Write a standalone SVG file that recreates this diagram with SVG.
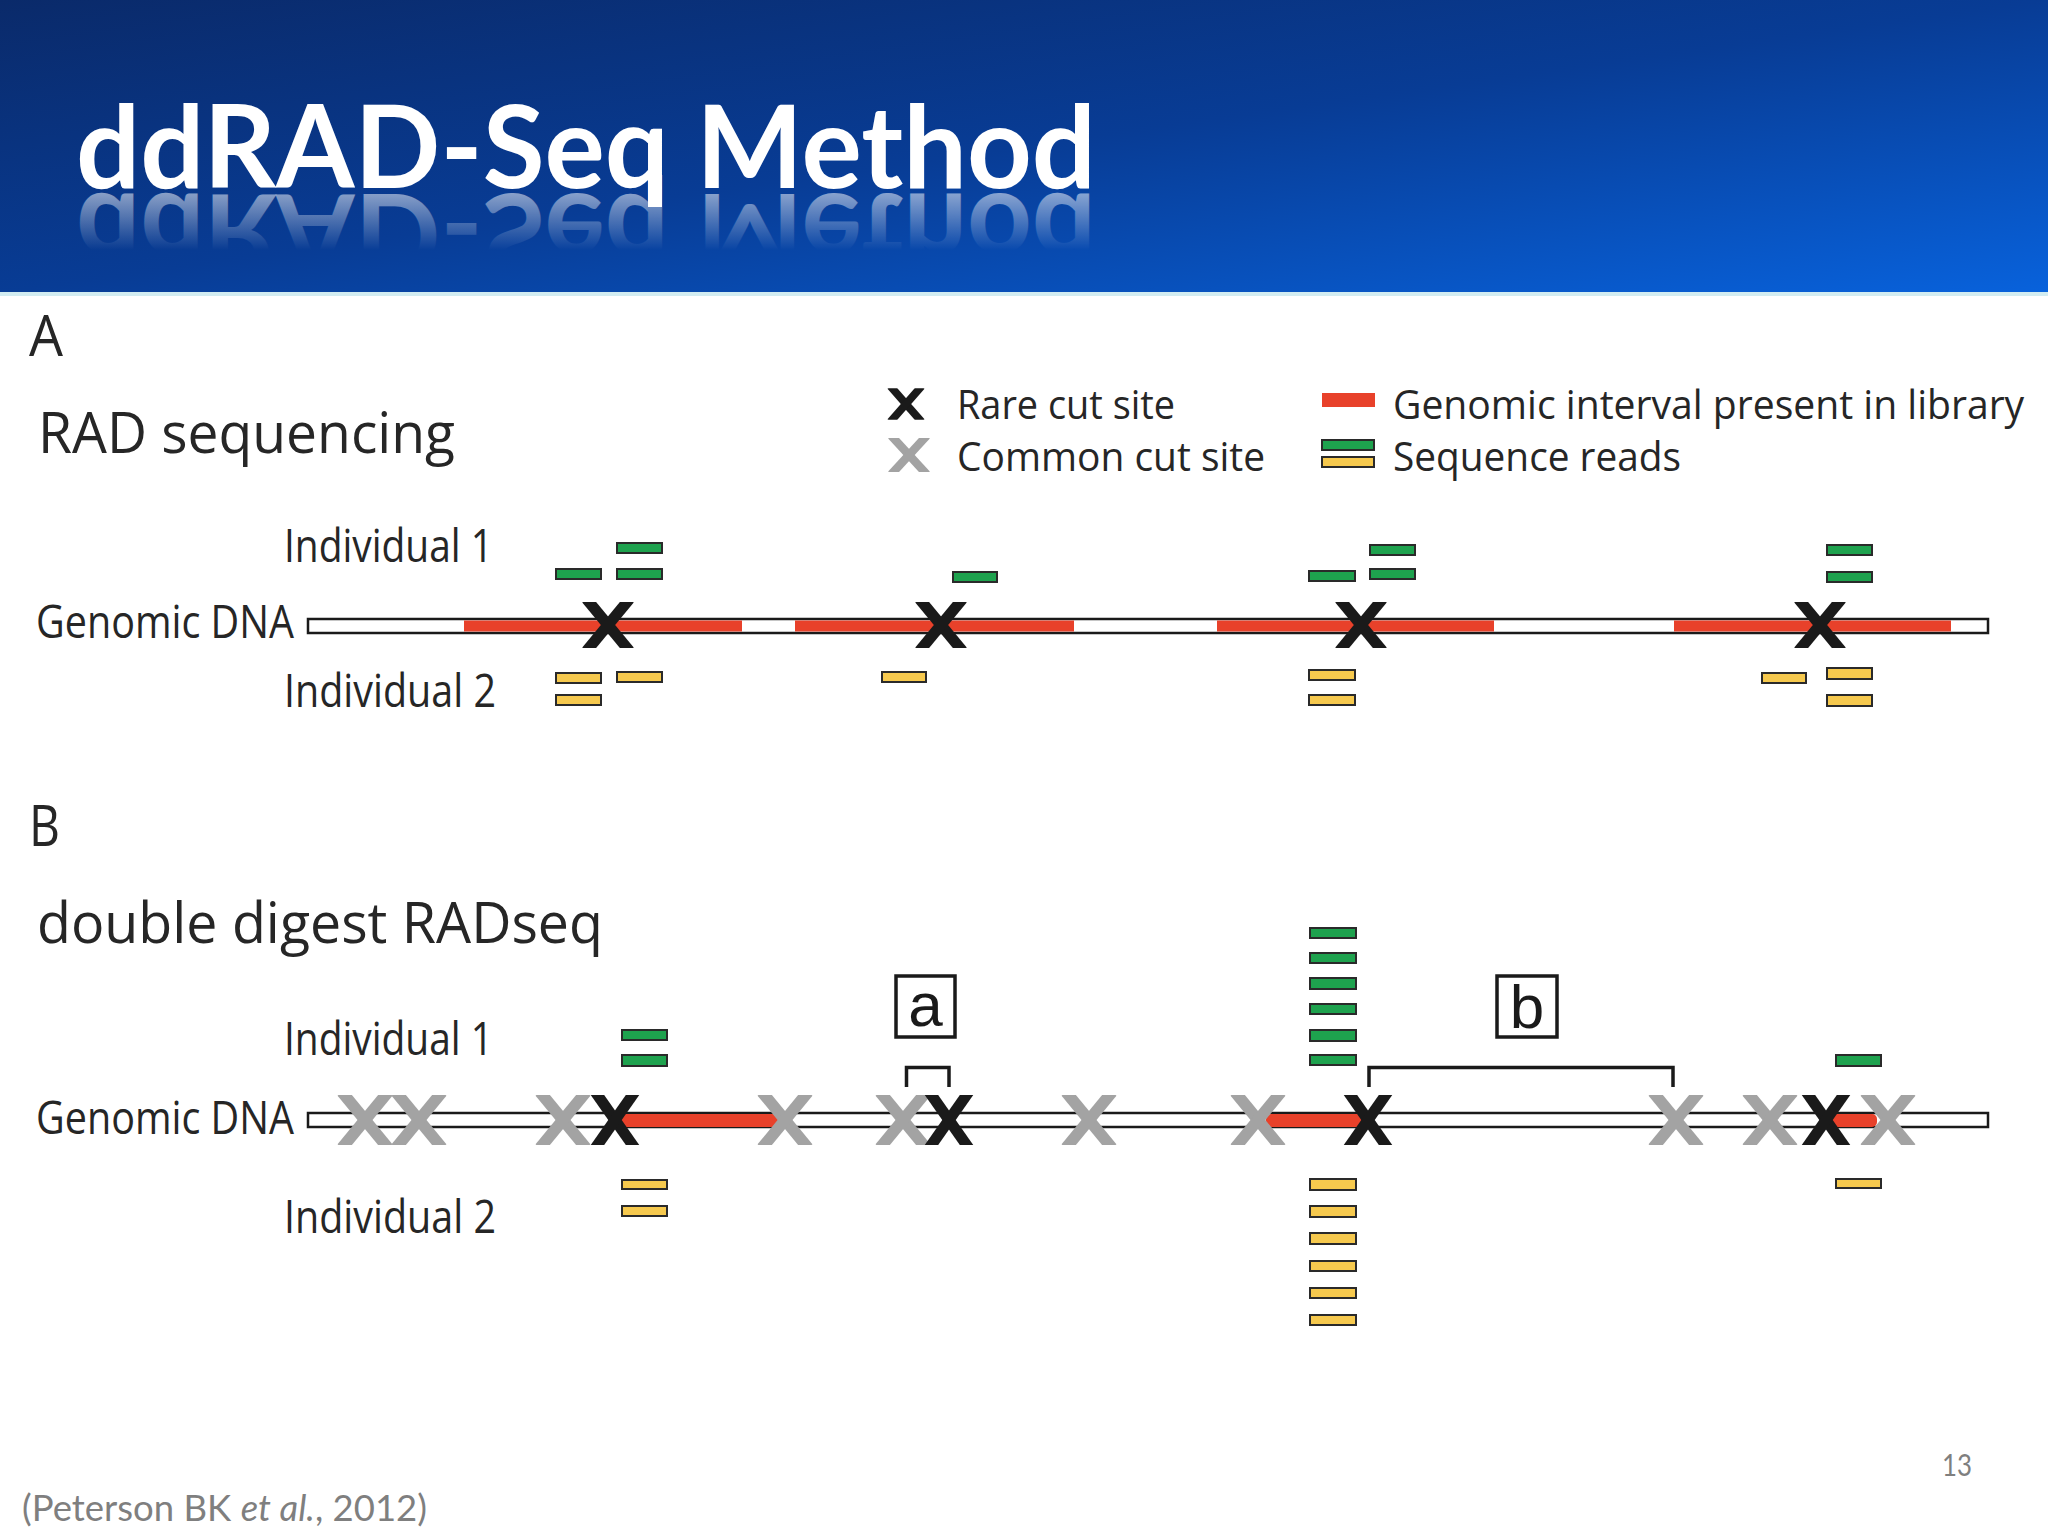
<svg xmlns="http://www.w3.org/2000/svg" xmlns:xlink="http://www.w3.org/1999/xlink" width="2048" height="1536" viewBox="0 0 2048 1536">
<defs>
  <linearGradient id="hdr" x1="0" y1="0" x2="1" y2="1">
    <stop offset="0" stop-color="#0a2a6a"/>
    <stop offset="0.5" stop-color="#083c95"/>
    <stop offset="1" stop-color="#0862dc"/>
  </linearGradient>
  <linearGradient id="refl" gradientUnits="userSpaceOnUse" x1="0" y1="192" x2="0" y2="132">
    <stop offset="0" stop-color="#ffffff" stop-opacity="0.55"/>
    <stop offset="1" stop-color="#ffffff" stop-opacity="0"/>
  </linearGradient>
  <text id="titleText" x="76" y="188" font-family="Lato, 'Open Sans', sans-serif" font-weight="700" font-size="115" textLength="1020" lengthAdjust="spacingAndGlyphs">ddRAD-Seq Method</text>
  <clipPath id="clipA" clipPathUnits="userSpaceOnUse"><rect x="-40" y="-23" width="80" height="46"/></clipPath>
  <clipPath id="clipB" clipPathUnits="userSpaceOnUse"><rect x="-40" y="-25" width="80" height="50"/></clipPath>
  <g id="xA" clip-path="url(#clipA)">
    <line x1="-21.5" y1="-26" x2="21.5" y2="26"/>
    <line x1="21.5" y1="-26" x2="-21.5" y2="26"/>
  </g>
  <g id="xBk" clip-path="url(#clipB)">
    <line x1="-20" y1="-28.5" x2="20" y2="28.5"/>
    <line x1="20" y1="-28.5" x2="-20" y2="28.5"/>
  </g>
  <g id="xGr" clip-path="url(#clipB)">
    <line x1="-23" y1="-28" x2="23" y2="28"/>
    <line x1="23" y1="-28" x2="-23" y2="28"/>
  </g>
  <style>
    .fig { font-family: 'Open Sans', 'Noto Sans', sans-serif; fill: #262626; }
    .h1 { font-size: 56px; }
    .lg { font-size: 41px; }
    .lb { font-size: 46px; }
    .foot { font-family: Lato, 'Open Sans', sans-serif; fill: #7f7f7f; }
    .box { font-family: 'Liberation Sans', Arial, sans-serif; font-size: 62px; fill: #1a1a1a; }
    .bar { fill: #ffffff; stroke: #1a1a1a; stroke-width: 2.5; }
    .red { fill: #e8412a; }
    .g { fill: #1ea24e; stroke: #2a2a2a; stroke-width: 2; }
    .y { fill: #f6c94e; stroke: #2a2a2a; stroke-width: 2; }
    .xk { stroke: #1a1a1a; stroke-width: 11; fill: none; }
    .xg { stroke: #a3a3a3; stroke-width: 11.5; fill: none; }
    .brk { fill: none; stroke: #1a1a1a; stroke-width: 3.5; }
  </style>
</defs>

<rect x="0" y="0" width="2048" height="1536" fill="#ffffff"/>

<g id="header">
  <rect x="0" y="0" width="2048" height="293" fill="url(#hdr)"/>
  <rect x="0" y="292" width="2048" height="4" fill="#d2ecf1"/>
  <use xlink:href="#titleText" fill="url(#refl)" transform="translate(0,382) scale(1,-1)"/>
  <use xlink:href="#titleText" fill="#ffffff"/>
</g>

<g id="panelA-labels">
  <text class="fig h1" x="29" y="356" textLength="34" lengthAdjust="spacingAndGlyphs">A</text>
  <text class="fig h1" x="38" y="453" textLength="417" lengthAdjust="spacingAndGlyphs">RAD sequencing</text>
  <text class="fig lb" x="284" y="562" textLength="209" lengthAdjust="spacingAndGlyphs">Individual 1</text>
  <text class="fig lb" x="36" y="638" textLength="258" lengthAdjust="spacingAndGlyphs">Genomic DNA</text>
  <text class="fig lb" x="284" y="707" textLength="212" lengthAdjust="spacingAndGlyphs">Individual 2</text>
</g>

<g id="legend">
  <use xlink:href="#xA" class="xk" transform="translate(906,404) scale(0.72,0.68)"/>
  <text class="fig lg" x="957" y="419" textLength="218" lengthAdjust="spacingAndGlyphs">Rare cut site</text>
  <use xlink:href="#xGr" class="xg" transform="translate(909,455) scale(0.76,0.68)"/>
  <text class="fig lg" x="957" y="471" textLength="308" lengthAdjust="spacingAndGlyphs">Common cut site</text>
  <rect x="1322" y="393" width="53" height="14" class="red"/>
  <text class="fig lg" transform="translate(1393,419) scale(0.8,1)" x="0" y="0" textLength="789" lengthAdjust="spacingAndGlyphs">Genomic interval present in library</text>
  <rect x="1322" y="440" width="52" height="10" class="g"/>
  <rect x="1322" y="457" width="52" height="10" class="y"/>
  <text class="fig lg" x="1393" y="471" textLength="288" lengthAdjust="spacingAndGlyphs">Sequence reads</text>
</g>

<g id="dnaA">
  <rect x="308" y="619" width="1680" height="14" class="bar"/>
  <rect x="464" y="620.5" width="278" height="11" class="red"/>
  <rect x="795" y="620.5" width="279" height="11" class="red"/>
  <rect x="1217" y="620.5" width="277" height="11" class="red"/>
  <rect x="1674" y="620.5" width="277" height="11" class="red"/>
  <use xlink:href="#xA" class="xk" transform="translate(608,625)"/>
  <use xlink:href="#xA" class="xk" transform="translate(941,625)"/>
  <use xlink:href="#xA" class="xk" transform="translate(1361,625)"/>
  <use xlink:href="#xA" class="xk" transform="translate(1820,625)"/>
</g>

<g id="readsA">
  <rect x="617" y="543" width="45" height="10" class="g"/>
  <rect x="556" y="569" width="45" height="10" class="g"/>
  <rect x="617" y="569" width="45" height="10" class="g"/>
  <rect x="556" y="673" width="45" height="10" class="y"/>
  <rect x="617" y="672" width="45" height="10" class="y"/>
  <rect x="556" y="695" width="45" height="10" class="y"/>

  <rect x="953" y="572" width="44" height="10" class="g"/>
  <rect x="882" y="672" width="44" height="10" class="y"/>

  <rect x="1370" y="545" width="45" height="10" class="g"/>
  <rect x="1309" y="571" width="46" height="10" class="g"/>
  <rect x="1370" y="569" width="45" height="10" class="g"/>
  <rect x="1309" y="670" width="46" height="10" class="y"/>
  <rect x="1309" y="695" width="46" height="10" class="y"/>

  <rect x="1827" y="545" width="45" height="10" class="g"/>
  <rect x="1827" y="572" width="45" height="10" class="g"/>
  <rect x="1762" y="673" width="44" height="10" class="y"/>
  <rect x="1827" y="668" width="45" height="11" class="y"/>
  <rect x="1827" y="695" width="45" height="11" class="y"/>
</g>

<g id="panelB-labels">
  <text class="fig h1" x="29" y="846" textLength="31" lengthAdjust="spacingAndGlyphs">B</text>
  <text class="fig h1" x="37" y="943" textLength="566" lengthAdjust="spacingAndGlyphs">double digest RADseq</text>
  <text class="fig lb" x="284" y="1055" textLength="209" lengthAdjust="spacingAndGlyphs">Individual 1</text>
  <text class="fig lb" x="36" y="1134" textLength="258" lengthAdjust="spacingAndGlyphs">Genomic DNA</text>
  <text class="fig lb" x="284" y="1233" textLength="212" lengthAdjust="spacingAndGlyphs">Individual 2</text>
</g>

<g id="boxA">
  <rect x="896" y="976" width="59" height="61" fill="#ffffff" class="brk"/>
  <text class="box" x="925.5" y="1026" text-anchor="middle">a</text>
</g>
<g id="boxB">
  <rect x="1497" y="976" width="60" height="61" fill="#ffffff" class="brk"/>
  <text class="box" x="1527" y="1028" text-anchor="middle">b</text>
</g>

<g id="connectors">
  <path class="brk" d="M906.5,1087 V1067.5 H949 V1087"/>
  <path class="brk" d="M1369,1087 V1067.5 H1673 V1087"/>
</g>

<g id="dnaB">
  <rect x="308" y="1113" width="1680" height="14" class="bar"/>
  <rect x="614" y="1114" width="164" height="13" rx="5" class="red"/>
  <rect x="1266" y="1114" width="99" height="13" rx="5" class="red"/>
  <rect x="1830" y="1114" width="47" height="13" rx="5" class="red"/>
  <use xlink:href="#xGr" class="xg" transform="translate(365,1120)"/>
  <use xlink:href="#xGr" class="xg" transform="translate(419,1120)"/>
  <use xlink:href="#xGr" class="xg" transform="translate(563,1120)"/>
  <use xlink:href="#xBk" class="xk" transform="translate(615,1120)"/>
  <use xlink:href="#xGr" class="xg" transform="translate(785,1120)"/>
  <use xlink:href="#xGr" class="xg" transform="translate(903,1120)"/>
  <use xlink:href="#xBk" class="xk" transform="translate(949,1120)"/>
  <use xlink:href="#xGr" class="xg" transform="translate(1089,1120)"/>
  <use xlink:href="#xGr" class="xg" transform="translate(1258,1120)"/>
  <use xlink:href="#xBk" class="xk" transform="translate(1368,1120)"/>
  <use xlink:href="#xGr" class="xg" transform="translate(1676,1120)"/>
  <use xlink:href="#xGr" class="xg" transform="translate(1770,1120)"/>
  <use xlink:href="#xGr" class="xg" transform="translate(1888,1120)"/>
  <use xlink:href="#xBk" class="xk" transform="translate(1826,1120)"/>
</g>

<g id="readsB">
  <rect x="622" y="1030" width="45" height="10" class="g"/>
  <rect x="622" y="1055" width="45" height="11" class="g"/>
  <rect x="622" y="1180" width="45" height="9" class="y"/>
  <rect x="622" y="1206" width="45" height="10" class="y"/>

  <rect x="1310" y="928" width="46" height="10" class="g"/>
  <rect x="1310" y="953" width="46" height="10" class="g"/>
  <rect x="1310" y="978" width="46" height="11" class="g"/>
  <rect x="1310" y="1004" width="46" height="10" class="g"/>
  <rect x="1310" y="1030" width="46" height="11" class="g"/>
  <rect x="1310" y="1055" width="46" height="10" class="g"/>
  <rect x="1310" y="1179" width="46" height="11" class="y"/>
  <rect x="1310" y="1206" width="46" height="11" class="y"/>
  <rect x="1310" y="1233" width="46" height="11" class="y"/>
  <rect x="1310" y="1261" width="46" height="10" class="y"/>
  <rect x="1310" y="1288" width="46" height="10" class="y"/>
  <rect x="1310" y="1315" width="46" height="10" class="y"/>

  <rect x="1836" y="1055" width="45" height="11" class="g"/>
  <rect x="1836" y="1179" width="45" height="9" class="y"/>
</g>

<g id="footer">
  <text class="foot" x="22" y="1521" font-size="36" textLength="405" lengthAdjust="spacingAndGlyphs">(Peterson BK <tspan font-style="italic">et al.</tspan>, 2012)</text>
  <text class="foot" x="1942" y="1476" font-size="31" textLength="30" lengthAdjust="spacingAndGlyphs">13</text>
</g>
</svg>
